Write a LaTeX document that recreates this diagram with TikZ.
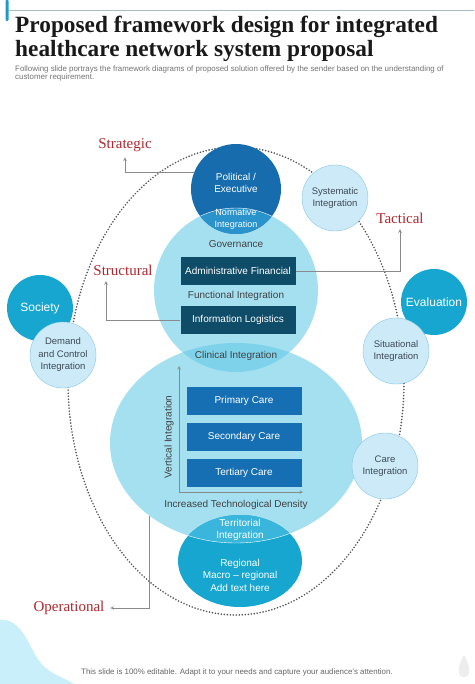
\documentclass[tikz,border=0pt]{standalone}
\usepackage{fontspec}
\setmainfont{Liberation Sans}
\newfontfamily\headfont{Liberation Serif}
\usetikzlibrary{shapes.geometric}
\definecolor{navyc}{HTML}{0E4C68}
\definecolor{bluec}{HTML}{176FB3}
\definecolor{polc}{HTML}{176CAD}
\definecolor{normc}{HTML}{2A93CB}
\definecolor{lightc}{HTML}{A5E0F1}
\definecolor{clinc}{HTML}{7ED2EA}
\definecolor{cyanc}{HTML}{16A6CF}
\definecolor{terrc}{HTML}{3AB5DC}
\definecolor{palec}{HTML}{CCEAF8}
\definecolor{edgec}{HTML}{86C6E6}
\definecolor{redc}{HTML}{B0282E}
\definecolor{linec}{HTML}{8A8A8A}
\definecolor{dotc}{HTML}{555555}
\definecolor{textc}{HTML}{404040}
\definecolor{circtextc}{HTML}{3E4A55}
\definecolor{blobc}{HTML}{C8EFFA}
\definecolor{topc}{HTML}{A7BCCB}
\definecolor{pinc}{HTML}{1E9BC9}

\begin{document}
\begin{tikzpicture}[x=1pt, y=-1pt, >=stealth, inner sep=1mm,
 smallc/.style={circle, minimum size=66pt, inner sep=0pt, fill=palec, draw=edgec, thin, align=center, text=circtextc, font=\fontsize{9.5}{12.5}\selectfont},
 bigc/.style={circle, minimum size=66pt, inner sep=0pt, fill=cyanc, text=white, font=\fontsize{12}{14}\selectfont},
 navybox/.style={fill=navyc, text=white, minimum width=115pt, minimum height=28pt, font=\fontsize{10}{12}\selectfont},
 carebox/.style={fill=bluec, text=white, minimum width=115pt, minimum height=28pt, font=\fontsize{10}{12}\selectfont},
 tier/.style={text=redc, inner sep=2mm, font=\headfont\fontsize{15}{17}\selectfont},
 midtext/.style={text=textc, font=\fontsize{10}{12}\selectfont},
 whitetext/.style={text=white, align=center, font=\fontsize{10}{12.5}\selectfont},
 conn/.style={->, draw=linec, line width=0.6pt},
 dots/.style={draw=dotc, line width=1.8pt, line cap=round, dash pattern=on 0pt off 3pt},
 ]
\useasboundingbox[fill=white] (0,0) rectangle (474,684);
\draw[topc, line width=0.8pt] (9,10) -- (474,10);
\fill[pinc, rounded corners=1pt] (5.5,0) rectangle (8.5,21);
\fill[blobc] (0,620) .. controls (18,618) and (26,638) .. (36,656) .. controls (46,674) and (62,676) .. (74,684) -- (0,684) -- cycle;
\fill[black!7] (464,655) .. controls (470,665) and (472,677) .. (464,677) .. controls (456,677) and (458,665) .. (464,655);

\node (title) at (15,33) [anchor=base west, inner sep=0pt, text=black!90, font=\headfont\bfseries\fontsize{23.3}{26}\selectfont] {Proposed framework design for integrated};
\node (title2) at (15,57) [anchor=base west, inner sep=0pt, text=black!90, font=\headfont\bfseries\fontsize{23.3}{26}\selectfont] {healthcare network system proposal};
\node (sub) at (15,71.5) [anchor=base west, inner sep=0pt, text=black!55, font=\fontsize{7.9}{8}\selectfont] {Following slide portrays the framework diagrams of proposed solution offered by the sender based on the understanding of};
\node (sub2) at (15,79.5) [anchor=base west, inner sep=0pt, text=black!55, font=\fontsize{7.9}{8}\selectfont] {customer requirement.};

\draw[dots] (236,381) ellipse (168pt and 234pt);

\node (upper) at (236,290) [circle, minimum size=164pt, fill=lightc, outer sep=0pt] {};
\node (lower) at (236,443) [ellipse, minimum width=252pt, minimum height=200pt, fill=lightc, outer sep=0pt] {};
\begin{scope}
\clip (236,290) circle (82pt);
\fill[clinc] (236,443) ellipse (126pt and 100pt);
\end{scope}
\node (pol) at (236,189) [circle, minimum size=90pt, fill=polc, outer sep=0pt] {};
\begin{scope}
\clip (236,189) circle (45pt);
\fill[normc] (236,290) circle (82pt);
\draw[white, thin] (236,290) circle (82pt);
\end{scope}
\node (reg) at (240,561) [ellipse, minimum width=124pt, minimum height=92pt, fill=cyanc, outer sep=0pt] {};
\begin{scope}
\clip (240,561) ellipse (62pt and 46pt);
\fill[terrc] (236,443) ellipse (126pt and 100pt);
\draw[white, thin] (236,443) ellipse (126pt and 100pt);
\end{scope}

\node (soc) at (40,308) [bigc] {Society};
\node (dem) at (63,355) [smallc] {Demand\\and Control\\Integration};
\node (eval) at (434,302) [bigc] {Evaluation};
\node (sit) at (396,351) [smallc] {Situational\\Integration};
\node (sys) at (335,198) [smallc] {Systematic\\Integration};
\node (care) at (385,466) [smallc] {Care\\Integration};

\node (poltext) at (236,183) [whitetext] {Political /\\Executive};
\node (norm) at (236,219) [whitetext, font=\fontsize{9}{12}\selectfont] {Normative\\Integration};
\node (gov) at (236,244) [midtext] {Governance};
\node (admin) at (238,271) [navybox] {Administrative Financial};
\node (func) at (236,296) [midtext] {Functional Integration};
\node (info) at (238,320) [navybox] {Information Logistics};
\node (clin) at (236,356) [midtext] {Clinical Integration};
\node (prim) at (244,401) [carebox] {Primary Care};
\node (sec) at (244,437) [carebox] {Secondary Care};
\node (tert) at (244,473) [carebox] {Tertiary Care};
\node (vert) at (169,437) [midtext, rotate=90] {Vertical Integration};
\node (dens) at (236,505) [midtext] {Increased Technological Density};
\node (terr) at (240,530) [whitetext] {Territorial\\Integration};
\node (regtext) at (240,575) [whitetext] {Regional\\Macro -- regional\\Add text here};

\node (strategic) at (125,145) [tier] {Strategic};
\node (tactical) at (400,218) [tier] {Tactical};
\node (structural) at (123,270) [tier] {Structural};
\node (operational) at (69,608) [tier] {Operational};

\coordinate (orig) at (179,492);
\coordinate (vtop) at (179,366);
\coordinate (hend) at (303,492);
\draw[conn, <->] (vtop) -- (orig) -- (hend);
\draw[conn] (pol.158) -| (strategic);
\draw[conn] (admin.east) -| (tactical);
\draw[conn] (info.west) -| ([xshift=-17pt]structural.south);
\draw[conn] (lower.220) |- (operational);

\node (foot) at (237,672) [text=black!60, font=\fontsize{7.9}{8}\selectfont] {This slide is 100\% editable. Adapt it to your needs and capture your audience's attention.};
\end{tikzpicture}
\end{document}
